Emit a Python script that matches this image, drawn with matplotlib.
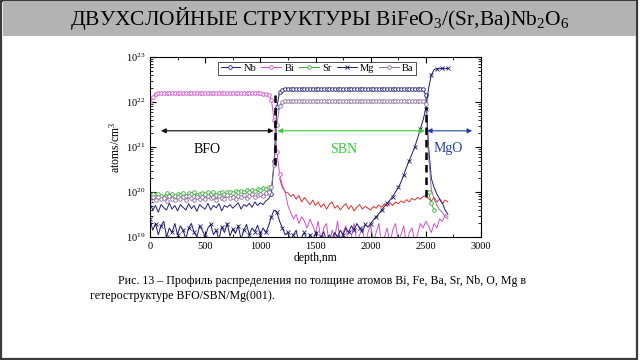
import numpy as np
import matplotlib
matplotlib.use("Agg")
import matplotlib.pyplot as plt
from matplotlib.patches import Rectangle

plt.rcParams['font.family'] = ['Liberation Serif', 'DejaVu Serif']
plt.rcParams['mathtext.fontset'] = 'custom'
plt.rcParams['mathtext.rm'] = 'Liberation Serif'
plt.rcParams['mathtext.it'] = 'Liberation Serif:italic'
plt.rcParams['mathtext.bf'] = 'Liberation Serif:bold'

# depth grid, nm (one sample every 25 nm)
depth = np.arange(0, 2701, 25)

# log10 of concentration, atoms/cm3
bi_log = [22.00, 22.10, 22.18, 22.20, 22.21, 22.20, 22.21, 22.20, 22.20, 22.21,
          22.20, 22.21, 22.20, 22.20, 22.19, 22.20, 22.20, 22.21, 22.20, 22.20,
          22.20, 22.19, 22.20, 22.20, 22.20, 22.19, 22.20, 22.20, 22.19, 22.20,
          22.20, 22.19, 22.20, 22.19, 22.20, 22.19, 22.19, 22.20, 22.19, 22.19,
          22.19, 22.18, 22.18, 22.15, 22.05, 21.60, 20.90, 20.40, 20.15, 20.00,
          19.70, 19.55, 19.40, 19.50, 19.30, 19.45, 19.35, 19.20, 19.40, 19.25,
          19.10, 19.35, 18.90, 19.20, 19.30, 18.80, 19.15, 19.00, 19.35, 18.85,
          19.10, 19.25, 18.80, 19.00, 19.30, 18.90, 19.05, 19.20, 18.80, 19.10,
          19.25, 18.90, 19.10, 19.30, 18.80, 19.00, 19.20, 18.85, 19.15, 19.30,
          18.90, 19.05, 19.25, 18.80, 19.10, 19.20, 18.90, 19.05, 19.30, 19.20,
          19.35, 19.25, 19.10, 19.30, 19.20, 19.40, 19.35, 19.50, 19.45]

nb_log = [19.75, 19.60, 19.70, 19.55, 19.72, 19.65, 19.60, 19.75, 19.62, 19.70,
          19.58, 19.72, 19.66, 19.60, 19.74, 19.63, 19.70, 19.57, 19.72, 19.66,
          19.62, 19.75, 19.60, 19.70, 19.65, 19.74, 19.58, 19.70, 19.66, 19.72,
          19.64, 19.70, 19.76, 19.62, 19.72, 19.68, 19.75, 19.66, 19.78, 19.70,
          19.76, 19.72, 19.80, 19.85, 19.95, 20.70, 21.90, 22.22, 22.27, 22.28,
          22.28, 22.29, 22.28, 22.28, 22.29, 22.28, 22.28, 22.29, 22.28, 22.28,
          22.29, 22.28, 22.28, 22.29, 22.28, 22.28, 22.29, 22.28, 22.29, 22.28,
          22.28, 22.29, 22.28, 22.28, 22.29, 22.28, 22.29, 22.28, 22.28, 22.29,
          22.28, 22.29, 22.28, 22.29, 22.28, 22.28, 22.29, 22.28, 22.29, 22.29,
          22.28, 22.29, 22.28, 22.29, 22.29, 22.28, 22.29, 22.29, 22.30, 22.30,
          22.15, 21.00, 20.30, 20.10, 19.95, 19.85, 19.75, 19.60, 19.50]

ba_log = [19.80, 19.88, 19.82, 19.90, 19.84, 19.87, 19.80, 19.92, 19.85, 19.83,
          19.90, 19.84, 19.88, 19.82, 19.91, 19.86, 19.83, 19.90, 19.85, 19.88,
          19.84, 19.92, 19.86, 19.88, 19.83, 19.91, 19.87, 19.85, 19.93, 19.86,
          19.90, 19.85, 19.92, 19.88, 19.94, 19.86, 19.91, 19.95, 19.89, 19.93,
          19.96, 19.92, 19.98, 20.00, 20.10, 20.60, 21.50, 21.92, 22.00, 22.02,
          22.03, 22.02, 22.03, 22.02, 22.03, 22.03, 22.02, 22.03, 22.02, 22.03,
          22.02, 22.03, 22.03, 22.02, 22.03, 22.02, 22.03, 22.02, 22.03, 22.03,
          22.02, 22.03, 22.02, 22.03, 22.03, 22.02, 22.03, 22.02, 22.03, 22.02,
          22.03, 22.02, 22.03, 22.03, 22.02, 22.03, 22.02, 22.03, 22.03, 22.02,
          22.03, 22.02, 22.03, 22.02, 22.03, 22.03, 22.02, 22.03, 22.02, 22.03,
          21.95, 20.80, 20.05, 19.85, 19.70, 19.60, 19.55, 19.45, 19.40]

nan = np.nan
sr_log = [19.90, 19.95, 19.88, 19.96, 19.92, 19.90, 19.97, 19.93, 19.95, 19.91,
          19.96, 19.94, 19.98, 19.92, 19.97, 19.95, 19.99, 19.93, 19.96, 19.98,
          19.95, 19.99, 19.96, 20.00, 19.94, 19.98, 20.01, 19.96, 19.99, 20.00,
          19.97, 20.02, 19.99, 20.03, 20.00, 20.04, 20.01, 20.05, 20.02, 20.06,
          20.04, 20.08, 20.06, 20.10, nan, nan, nan, nan, nan, nan,
          nan, nan, nan, nan, nan, nan, nan, nan, nan, nan,
          nan, nan, nan, nan, nan, nan, nan, nan, nan, nan,
          nan, nan, nan, nan, nan, nan, nan, nan, nan, nan,
          nan, nan, nan, nan, nan, nan, nan, nan, nan, nan,
          nan, nan, nan, nan, nan, nan, nan, nan, nan, nan,
          nan, 20.00, 19.75, 19.60, nan, nan, nan, nan, nan]

mg_log = [19.40, 19.15, 19.30, 19.05, 19.25, 19.35, 19.00, 19.20, 19.10, 19.30,
          19.05, 19.25, 19.15, 18.95, 19.20, 19.30, 19.10, 19.00, 19.25, 19.15,
          19.00, 19.20, 19.28, 19.05, 19.15, 18.95, 19.22, 19.10, 19.30, 19.02,
          19.18, 19.08, 19.25, 18.95, 19.15, 19.28, 19.05, 19.20, 19.12, 19.26,
          19.05, 19.20, 19.10, 19.25, 19.45, 19.60, 19.55, 19.35, 19.20, 19.05,
          19.10, 18.90, 19.05, 19.15, 18.85, 19.00, 19.10, 18.90, 19.05, 18.95,
          19.08, 18.85, 19.00, 19.12, 18.90, 19.05, 18.95, 19.10, 19.00, 19.15,
          19.05, 19.20, 19.10, 19.25, 19.15, 19.30, 19.20, 19.10, 19.28, 19.22,
          19.30, 19.38, 19.45, 19.52, 19.60, 19.68, 19.75, 19.82, 19.90, 20.00,
          20.10, 20.22, 20.38, 20.55, 20.70, 20.85, 21.00, 21.20, 21.40, 21.60,
          21.85, 22.30, 22.60, 22.72, 22.74, 22.74, 22.75, 22.74, 22.75]

# red trace (not in the legend)
fe_log = [nan] * 47 + [
          20.30, 20.10, 20.00,
          19.98, 19.90, 19.95, 19.84, 19.92, 19.78, 19.88, 19.80, 19.72, 19.82,
          19.70, 19.78, 19.66, 19.74, 19.62, 19.72, 19.78, 19.64, 19.70, 19.60,
          19.68, 19.74, 19.62, 19.70, 19.58, 19.66, 19.72, 19.62, 19.68, 19.64,
          19.60, 19.68, 19.64, 19.71, 19.66, 19.74, 19.68, 19.76, 19.70, 19.78,
          19.74, 19.80, 19.76, 19.83, 19.78, 19.86, 19.82, 19.88, 19.84, 19.90,
          19.92, 19.85, 19.80, 19.88, 19.78, 19.84, 19.74, 19.82, 19.78]

series = [
    ("Nb", nb_log, '#1f1f7a', 'o', list(range(44, 101))),
    ("Bi", bi_log, '#d04fd0', 'o', list(range(0, 48))),
    ("Sr", sr_log, '#33b033', 'o', []),
    ("Mg", mg_log, '#1a1a6e', 'x', list(range(0, 109, 2))),
    ("Ba", ba_log, '#8f6f9f', 'o', list(range(0, 101))),
]

fig = plt.figure(figsize=(6.4, 3.6), dpi=100)

# slide frame and title band
fig.patches.append(Rectangle((0.002, 0.004), 0.994, 0.994, transform=fig.transFigure,
                             facecolor='white', edgecolor='#3a3a3a', lw=1.6, zorder=-2))
fig.patches.append(Rectangle((0.004, 0.9), 0.99, 0.097, transform=fig.transFigure,
                             facecolor='#b3b3b3', edgecolor='none', zorder=-1))
fig.text(0.5, 0.948, "ДВУХСЛОЙНЫЕ СТРУКТУРЫ BiFeO$_3$/(Sr,Ba)Nb$_2$O$_6$",
         ha='center', va='center', fontsize=15.5, color='black')

ax = fig.add_axes([150 / 640, 1 - 237 / 360, 331 / 640, 180 / 360])

ax.plot(depth, 10 ** np.array(fe_log), color='#e03030', lw=0.7)
for name, vals, col, mk, every in series:
    ax.plot(depth, 10 ** np.array(vals), color=col, lw=0.7, marker=mk,
            ms=2.6 if mk == 'o' else 2.4, mfc='white' if mk == 'o' else col,
            mec=col, mew=0.6, markevery=every if every else None, label=name)

# layer boundaries
ax.plot([1135, 1135], [10 ** 20.6, 10 ** 22.25], color='black', lw=1.8,
        ls=(0, (3, 2)))
ax.plot([2505, 2505], [10 ** 19.9, 10 ** 21.9], color='black', lw=1.8,
        ls=(0, (3, 2)))

# layer arrows
ya = 10 ** 21.36
for x0, x1, c in [(100, 1120, 'black'), (1155, 2490, '#33cc33'), (2510, 2920, '#1f3f9f')]:
    ax.annotate('', xy=(x1, ya), xytext=(x0, ya),
                arrowprops=dict(arrowstyle='<|-|>', color=c, lw=0.8,
                                mutation_scale=7, shrinkA=0, shrinkB=0))
ax.text(520, 10 ** 20.95, "BFO", ha='center', va='center', fontsize=10, color='black')
ax.text(1760, 10 ** 20.95, "SBN", ha='center', va='center', fontsize=10, color='#33cc33')
ax.text(2700, 10 ** 20.97, "MgO", ha='center', va='center', fontsize=10, color='#1f3f9f')

ax.set_yscale('log')
ax.set_xlim(0, 3000)
ax.set_ylim(1e19, 1e23)
ax.set_xticks([0, 500, 1000, 1500, 2000, 2500, 3000])
ax.set_xticks(np.arange(250, 3000, 500), minor=True)
ax.tick_params(which='both', direction='in', top=True, right=True, labelsize=7.5)
ax.tick_params(which='major', length=4)
ax.tick_params(which='minor', length=2)
ax.set_xlabel("depth,nm", fontsize=8.5, labelpad=1)
ax.set_ylabel("atoms/cm$^3$", fontsize=8.5, labelpad=2)

leg = ax.legend(loc='upper center', bbox_to_anchor=(0.505, 0.975), ncol=5,
                fontsize=7.5, frameon=True, fancybox=False, edgecolor='black',
                handlelength=1.9, columnspacing=0.5, handletextpad=0.3,
                borderpad=0.2, borderaxespad=0)
leg.get_frame().set_linewidth(0.6)

fig.text(118 / 640, 1 - 281 / 360,
         "Рис. 13 – Профиль распределения по толщине атомов Bi, Fe, Ba, Sr, Nb, O, Mg в",
         ha='left', va='center', fontsize=8.6)
fig.text(90 / 640, 1 - 296 / 360, "гетероструктуре BFO/SBN/Mg(001).",
         ha='left', va='center', fontsize=8.6)

fig.savefig("out.png", dpi=100)
